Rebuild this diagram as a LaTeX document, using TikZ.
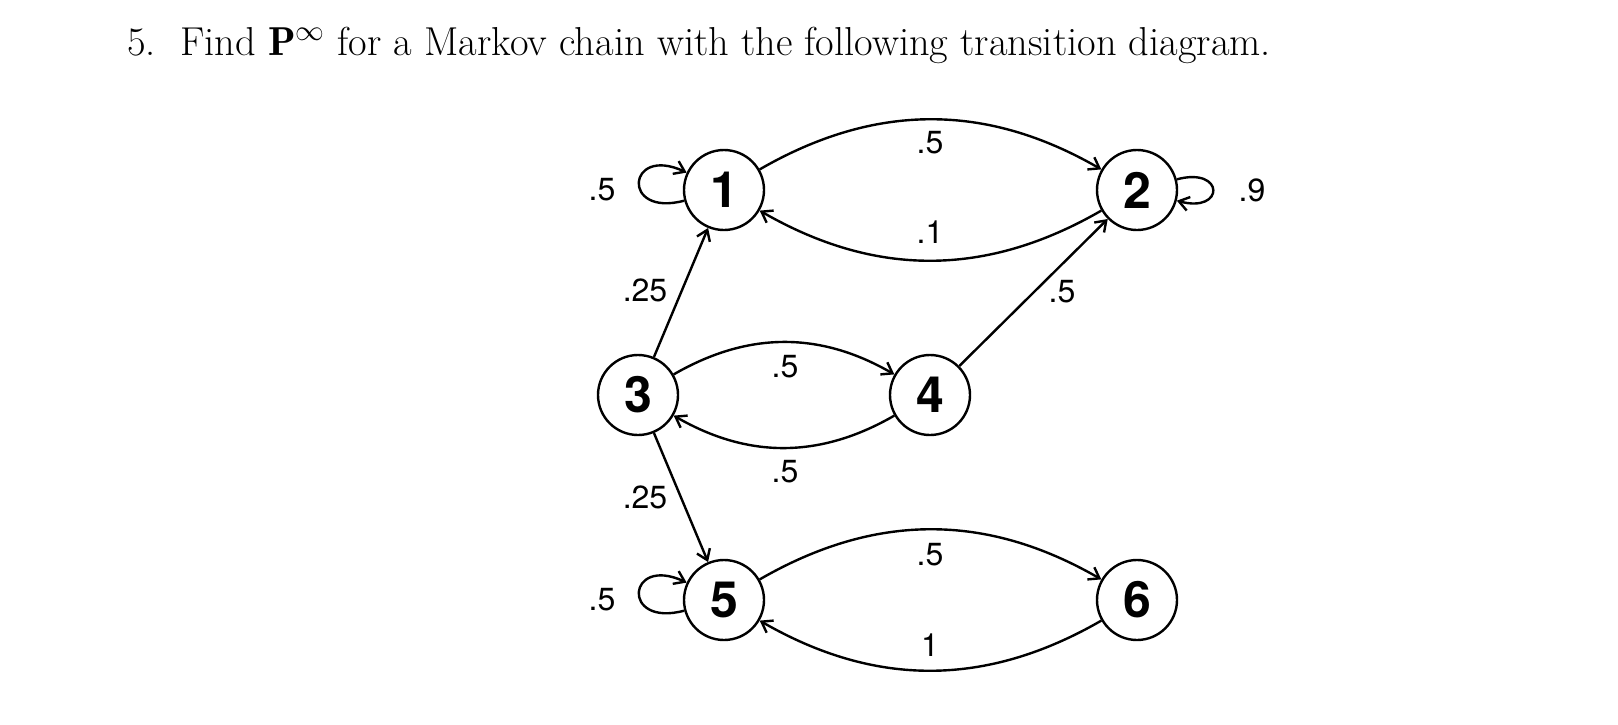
\documentclass[tikz,border=0pt]{standalone}
\usepackage{fontspec}
\newfontfamily\hv{TeX Gyre Heros}
\usetikzlibrary{arrows.meta}
\begin{document}
\begin{tikzpicture}[x=0.5pt,y=-0.5pt,
  st/.style={circle,draw,line width=1.2pt,minimum size=40pt,inner sep=0pt,font=\hv\bfseries\fontsize{25}{25}\selectfont},
  ed/.style={-{Straight Barb[length=5pt,width=7pt]},line width=1.2pt},
  lb/.style={font=\hv\fontsize{16}{16}\selectfont}]
\path[use as bounding box] (0,0) rectangle (1618,724);
\clip (0,0) rectangle (1618,724);
\node[anchor=west,font=\fontsize{20.2}{20.2}\selectfont] (title) at (120,45) {5.\ \ Find $\mathbf{P}^\infty$ for a Markov chain with the following transition diagram.};
\node[st] (n1) at (724,190) {1};
\node[st] (n2) at (1137,190) {2};
\node[st] (n3) at (638,395) {3};
\node[st] (n4) at (930,395) {4};
\node[st] (n5) at (724,600) {5};
\node[st] (n6) at (1137,600) {6};
\draw[ed] (n1) to[bend left=30] (n2);
\draw[ed] (n2) to[bend left=30] (n1);
\draw[ed] (n3) -- (n1);
\draw[ed] (n4) -- (n2);
\draw[ed] (n3) to[bend left=30] (n4);
\draw[ed] (n4) to[bend left=30] (n3);
\draw[ed] (n3) -- (n5);
\draw[ed] (n5) to[bend left=30] (n6);
\draw[ed] (n6) to[bend left=30] (n5);
\draw[ed] (n1.195) to[out=195,in=155,looseness=6] (n1.155);
\draw[ed] (n5.195) to[out=195,in=155,looseness=6] (n5.155);
\draw[ed] (n2.15) to[out=15,in=-15,looseness=6] (n2.-15);
\node[lb] (l12) at (930,143) {.5};
\node[lb] (l21) at (930,232) {.1};
\node[lb] (l31) at (645,290) {.25};
\node[lb] (l42) at (1062,292) {.5};
\node[lb] (l34) at (785,367) {.5};
\node[lb] (l43) at (785,472) {.5};
\node[lb] (l35) at (645,497) {.25};
\node[lb] (l56) at (930,555) {.5};
\node[lb] (l65) at (930,645) {1};
\node[lb] (l11) at (602,190) {.5};
\node[lb] (l55) at (602,600) {.5};
\node[lb] (l22) at (1252,190) {.9};
\end{tikzpicture}
\end{document}
